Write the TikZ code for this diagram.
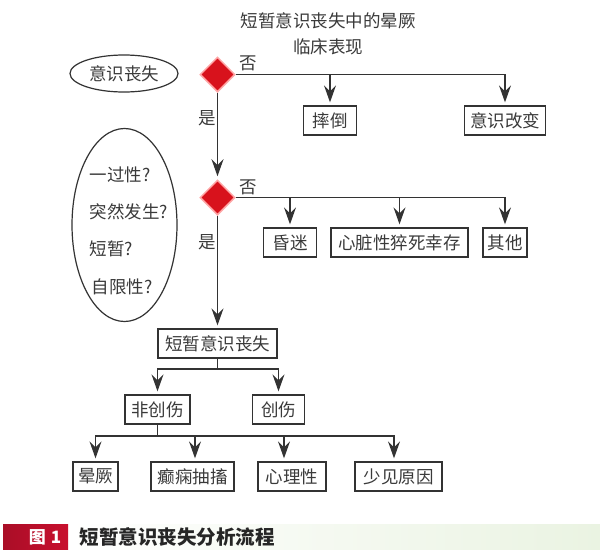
\documentclass[tikz,border=0pt]{standalone}
\usepackage{fontspec}
\newfontfamily\cjk{Noto Sans CJK SC}
\usetikzlibrary{shapes.geometric,arrows.meta,calc}
\definecolor{ink}{HTML}{333333}
\definecolor{txt}{HTML}{3A3A3A}
\definecolor{dred}{HTML}{D8121C}
\definecolor{banner}{HTML}{C8102E}
\definecolor{pale}{HTML}{EAF3E2}
\begin{document}
\begin{tikzpicture}[x=1pt,y=-1pt,
  every node/.style={font=\cjk\fontsize{17.5}{20}\selectfont, text=txt},
  box/.style={draw=ink, line width=1.3pt, minimum height=29pt, inner sep=0pt},
  dia/.style={diamond, fill=dred, draw=red!35, line width=1.5pt, minimum width=35pt, minimum height=35pt, inner sep=0pt},
  oval/.style={ellipse, draw=ink, line width=1.2pt, inner sep=0pt},
  ln/.style={draw=ink, line width=1.2pt},
  arr/.style={ln, -{Stealth[length=17pt,width=12pt,inset=6pt]}, shorten >=3pt},
  ]
\useasboundingbox (0,0) rectangle (600,552);
\fill[white] (0,0) rectangle (600,552);

% title
\node (t1) at (328,21) {短暂意识丧失中的晕厥};
\node (t2) at (328,47) {临床表现};

% left ovals
\node[oval, minimum width=108pt, minimum height=37pt] (e1) at (124,73.5) {意识丧失};
\node[oval, minimum width=105pt, minimum height=193pt] (e2) at (124.5,225) {};
\node[anchor=west] (q1) at (86,175) {一过性?};
\node[anchor=west] (q2) at (86,212) {突然发生?};
\node[anchor=west] (q3) at (86,249) {短暂?};
\node[anchor=west] (q4) at (88,287) {自限性?};

% decisions
\node[dia] (d1) at (217.5,74.5) {};
\node[dia] (d2) at (217.5,197.5) {};
\node (n1) at (248,63) {否};
\node (n2) at (248,187) {否};
\node (y1) at (207,118) {是};
\node (y2) at (207,242) {是};

% row 1
\node[box, minimum width=53pt] (sd) at (330,120.5) {摔倒};
\node[box, minimum width=81pt] (ydgb) at (505,120.5) {意识改变};
% row 2
\node[box, minimum width=53pt] (hm) at (290,242.5) {昏迷};
\node[box, minimum width=137pt] (xz) at (399.5,242.5) {心脏性猝死幸存};
\node[box, minimum width=44pt] (qt) at (505,242.5) {其他};
% main
\node[box, minimum width=119pt] (dz) at (217.5,343.5) {短暂意识丧失};
\node[box, minimum width=65pt] (fcs) at (157.5,409.5) {非创伤};
\node[box, minimum width=52pt] (cs) at (278.5,409.5) {创伤};
% bottom row
\node[box, minimum width=45pt] (yj) at (95.5,476.5) {晕厥};
\node[box, minimum width=83pt] (dx) at (192.5,476.5) {癫痫抽搐};
\node[box, minimum width=68pt] (xl) at (292,476.5) {心理性};
\node[box, minimum width=87pt] (sj) at (398.5,476.5) {少见原因};

% connectors
\draw[arr] (d1.east) -| (ydgb.north);
\draw[arr] (d1.east -| sd.north) -- (sd.north);
\draw[arr] (d1.south) -- (d2.north);
\draw[arr] (d2.east) -| (qt.north);
\draw[arr] (d2.east -| hm.north) -- (hm.north);
\draw[arr] (d2.east -| xz.north) -- (xz.north);
\draw[arr] (d2.south) -- (dz.north);

\coordinate (b1) at (217.5,369);
\draw[ln] (dz.south) -- (b1);
\draw[arr] (b1) -| (fcs.north);
\draw[arr] (b1) -| (cs.north);

\coordinate (b2) at (157.5,436);
\coordinate (xlt) at ($(xl.north)+(-8,0)$);
\coordinate (sjt) at ($(sj.north)+(-4.5,0)$);
\coordinate (dxt) at ($(dx.north)+(2.5,0)$);
\draw[ln] (fcs.south) -- (b2);
\draw[arr] (b2) -| (yj.north);
\draw[arr] (b2) -| (sjt);
\draw[arr] (b2 -| dxt) -- (dxt);
\draw[arr] (b2 -| xlt) -- (xlt);

% footer
\shade[left color=white, right color=pale] (68,524) rectangle (600,549);
\shade[left color=banner!85!black, right color=banner] (3,524) rectangle (68,549);
\node[font=\cjk\bfseries\fontsize{17}{20}\selectfont, text=white] (fig) at (45,537) {图\hspace{5pt}1};
\node[anchor=west, font=\cjk\bfseries\fontsize{19.5}{22}\selectfont, text=black!85] (cap) at (76,537) {短暂意识丧失分析流程};
\end{tikzpicture}
\end{document}
